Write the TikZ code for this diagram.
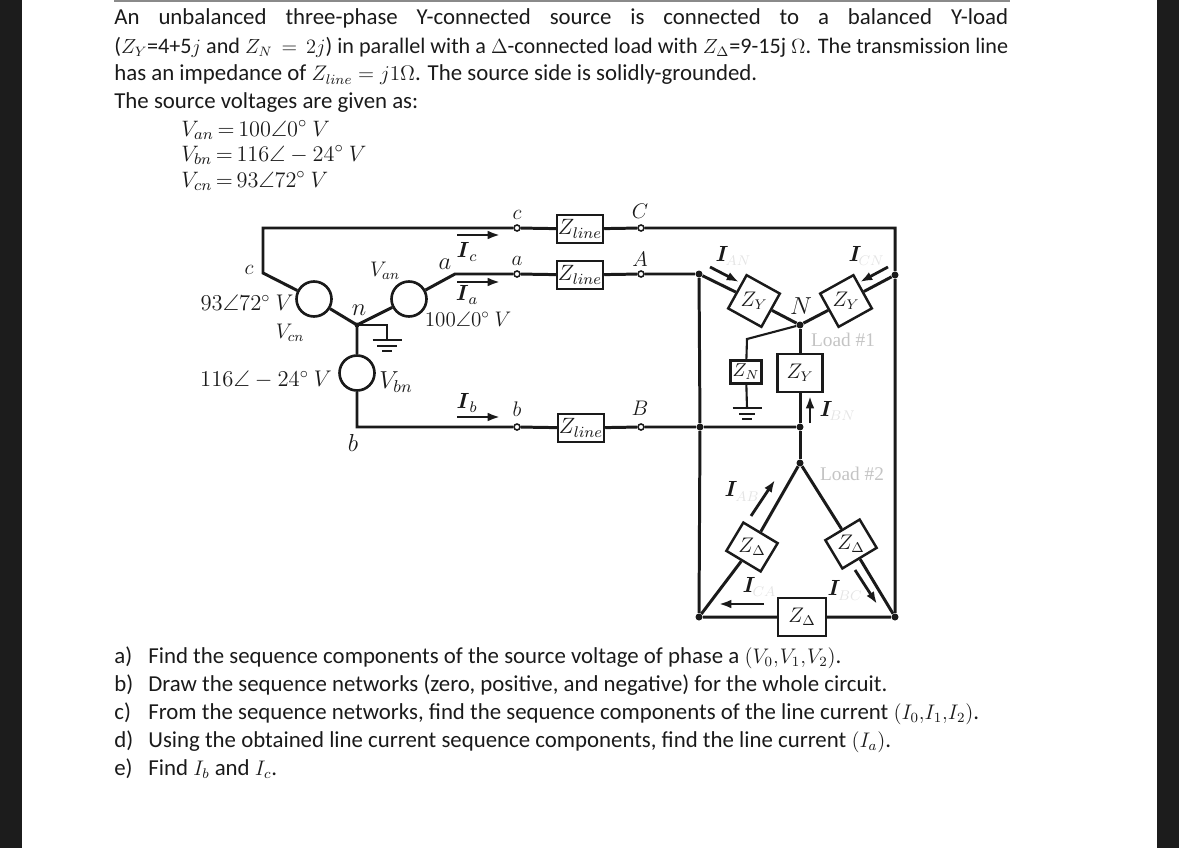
\documentclass[tikz,border=0pt]{standalone}
\usepackage{fix-cm}
\usepackage{amsmath,amssymb}
\usepackage{graphicx}
\usepackage{fontspec}
\setmainfont{Carlito}
\newfontfamily\loadfont{Liberation Serif}
\usetikzlibrary{calc,arrows.meta}

\definecolor{inkblack}{HTML}{1A1A1A}
\definecolor{framedark}{HTML}{1C1C1C}
\definecolor{fadedgray}{HTML}{C4C4C4}
\definecolor{subgray}{HTML}{E4E4E4}
\definecolor{rulegray}{HTML}{8A8A8A}

% math in the running text is a little smaller than the text
\newcommand{\tm}[1]{{\fontsize{12}{14}\selectfont$#1$}}

\begin{document}
\begin{tikzpicture}[
    x=0.02cm, y=-0.02cm,
    color=inkblack,
    wire/.style={line width=1.7pt},
    thinwire/.style={line width=1.2pt},
    curarrow/.style={line width=1.6pt, -{Latex[length=7pt,width=5pt]}},
    para/.style={anchor=base west, inner sep=0pt, font=\fontsize{13}{16}\selectfont},
    eqn/.style={anchor=base west, inner sep=0pt, font=\fontsize{12.7}{15}\selectfont},
    lbl/.style={inner sep=0pt, font=\fontsize{12}{15}\selectfont},
    biglbl/.style={inner sep=0pt, font=\fontsize{14}{15}\selectfont},
    vallbl/.style={inner sep=0pt, font=\fontsize{12.9}{15}\selectfont},
    curlbl/.style={inner sep=0pt, font=\fontsize{12.5}{15}\selectfont},
    faded/.style={inner sep=0pt, text=subgray, font=\fontsize{8}{10}\selectfont},
    loadtxt/.style={inner sep=0pt, text=fadedgray, font=\fontsize{11}{12}\loadfont},
    source/.style={draw, circle, line width=1.5pt, minimum size=0.7cm, inner sep=0pt},
    zline/.style={draw, rectangle, line width=1.4pt, minimum width=0.92cm, minimum height=0.56cm, inner sep=0pt, fill=white, font=\fontsize{12.6}{15}\selectfont},
    zbox/.style={draw, rectangle, line width=1.4pt, inner sep=0pt, fill=white},
    term/.style={draw, circle, line width=0.9pt, fill=white, minimum size=0.12cm, inner sep=0pt},
    dot/.style={circle, fill=inkblack, minimum size=0.14cm, inner sep=0pt}
]
    \useasboundingbox (0,0) rectangle (1179,848);

    % Page edges
    \fill[framedark] (0,0) rectangle (22,848);
    \fill[framedark] (1157,0) rectangle (1179,848);
    \draw[rulegray, line width=1pt] (114,1) -- (1010,1);

    % Problem statement
    \node[para] (line1) at (114,25) {\makebox[17.88cm][s]{An unbalanced three-phase Y-connected source is connected to a balanced Y-load}};
    \node[para] (line2) at (114,53) {\resizebox{17.88cm}{!}{(\tm{Z_Y}=4+5\tm{j} and \tm{Z_N\,=\,2j}) in parallel with a \tm{\Delta}-connected load with \tm{Z_\Delta}=9-15j \tm{\Omega}. The transmission line}};
    \node[para] (line3) at (114,81) {has an impedance of \tm{Z_{line}=j1\Omega}. The source side is solidly-grounded.};
    \node[para] (line4) at (114,109) {The source voltages are given as:};
    \node[eqn] (eqa) at (181,136) {$\thickmuskip=3mu V_{an}=100\angle 0^\circ\ V$};
    \node[eqn] (eqb) at (181,161) {$\thickmuskip=3mu V_{bn}=116\angle-24^\circ\ V$};
    \node[eqn] (eqc) at (181,187) {$\thickmuskip=3mu V_{cn}=93\angle 72^\circ\ V$};

    % Source side
    \coordinate (n) at (357,325);
    \coordinate (cornerC) at (263,273);
    \coordinate (cornerA) at (455,274);
    \coordinate (cornerB) at (357,427);
    \node[source] (srcC) at (314,299) {};
    \node[source] (srcA) at (409,299) {};
    \node[source] (srcB) at (357,373) {};
    \node[dot, minimum size=0.1cm] (nDot) at (n) {};

    % Terminals and line impedances
    \node[term] (tc) at (517,228) {};
    \node[term] (ta) at (517,274) {};
    \node[term] (tb) at (517,427) {};
    \node[term] (tC) at (641,228) {};
    \node[term] (tA) at (641,274) {};
    \node[term] (tB) at (641,427) {};
    \node[zline] (zlc) at (580,229) {$Z_{line}$};
    \node[zline] (zla) at (580,275) {$Z_{line}$};
    \node[zline] (zlb) at (581,428) {$Z_{line}$};

    % Right side buses
    \node[dot] (busA) at (699,274) {};
    \node[dot] (busB) at (700,427) {};
    \node[dot] (busC) at (895,275) {};
    \node[dot] (busN) at (800,427) {};
    \coordinate (cornerTop) at (895,228);
    \node[dot] (delL) at (699,617) {};
    \node[dot] (delR) at (895,617) {};
    \node[dot] (delT) at (800,463) {};

    % Source wires
    \draw[wire] (n) -- (srcC) -- (cornerC) -- (263,228) -- (tc) -- (zlc) -- (tC) -- (cornerTop) -- (busC) -- (delR);
    \draw[wire] (n) -- (srcA) -- (cornerA) -- (ta) -- (zla) -- (tA) -- (busA) -- (busB) -- (delL);
    \draw[wire] (n) -- (srcB) -- (cornerB) -- (tb) -- (zlb) -- (tB) -- (busB) -- (busN);

    % Source grounding
    \coordinate (gndS) at (387,340);
    \draw[thinwire] (n) -| (gndS);
    \foreach \w/\dy in {14.5/0,10/6,5/11} {
        \draw[thinwire] ($(gndS)+(-\w,\dy)$) -- ($(gndS)+(\w,\dy)$);
    }

    % Load 1
    \node[dot] (N) at (800,325) {};
    \node[zbox, rotate=-29, minimum width=0.76cm, minimum height=0.76cm] (zyA) at (754,301) {};
    \node[zbox, rotate=29, minimum width=0.76cm, minimum height=0.76cm] (zyC) at (846,301) {};
    \node[zbox, minimum width=0.9cm, minimum height=0.76cm] (zyB) at (800,373) {};
    \node[zbox, minimum width=0.62cm, minimum height=0.46cm] (zN) at (746,372) {};
    \coordinate (zNbend) at (747,339);
    \coordinate (gndN) at (747,408);
    \draw[wire] (busA) -- (zyA) -- (N) -- (zyC) -- (busC);
    \draw[wire] (N) -- (zyB) -- (busN) -- (delT);
    \draw[thinwire] (N) -- (zNbend) -- (zN) -- (gndN);
    \foreach \w/\dy in {14.5/0,8/6,5/11} {
        \draw[thinwire] ($(gndN)+(-\w,\dy)$) -- ($(gndN)+(\w,\dy)$);
    }
    \node[lbl] (zyAtxt) at (zyA) {$Z_Y$};
    \node[lbl] (zyCtxt) at (zyC) {$Z_Y$};
    \node[lbl] (zyBtxt) at (zyB) {$Z_Y$};
    \node[inner sep=0pt, font=\fontsize{10.6}{12}\selectfont] (zNtxt) at (zN) {$Z_N$};

    % Load 2
    \node[zbox, rotate=-31, minimum width=0.8cm, minimum height=0.66cm] (zdAB) at (752,547) {};
    \node[zbox, rotate=31, minimum width=0.8cm, minimum height=0.66cm] (zdBC) at (851,544) {};
    \node[zbox, minimum width=0.96cm, minimum height=0.76cm] (zdCA) at (802,617) {};
    \draw[wire] (delT) -- (zdAB) -- (delL) -- (zdCA) -- (delR) -- (zdBC) -- (delT);
    \node[lbl] (zdABtxt) at (zdAB) {$Z_\Delta$};
    \node[lbl] (zdBCtxt) at (zdBC) {$Z_\Delta$};
    \node[lbl] (zdCAtxt) at (zdCA) {$Z_\Delta$};

    % Current arrows
    \foreach \name/\xa/\ya/\xb/\yb in {arC/457/235/500/235, arA/457/282/500/282, arB/457/417/500/417,
        arAN/710/267/739/282, arCN/888/267/860/282, arBN/810/423/810/396,
        arAB/751/516/775/480, arBC/855/570/877/604, arCA/764/604/719/604} {
        \coordinate (\name s) at (\xa,\ya);
        \coordinate (\name e) at (\xb,\yb);
        \draw[curarrow] (\name s) -- (\name e);
    }

    % Source labels
    \node[lbl] (lblC) at (249,270) {$c$};
    \node[vallbl] (lblVc) at (247,303) {$93\angle 72^\circ\ V$};
    \node[lbl] (lblVcn) at (290,333) {$V_{cn}$};
    \node[biglbl] (lbln) at (359,310) {$n$};
    \node[lbl] (lblVan) at (385,271) {$V_{an}$};
    \node[biglbl] (lblA) at (445,264) {$a$};
    \node[lbl] (lblVa) at (468,319) {$100\angle 0^\circ\ V$};
    \node[vallbl] (lblVb) at (266,380) {$116\angle-24^\circ\ V$};
    \node[biglbl] (lblVbn) at (396,382) {$V_{bn}$};
    \node[biglbl] (lblB) at (353,443) {$b$};
    \node[curlbl] (lblIc) at (467,252) {$\boldsymbol{I}_c$};
    \node[curlbl] (lblIa) at (467,295) {$\boldsymbol{I}_a$};
    \node[curlbl] (lblIb) at (467,403) {$\boldsymbol{I}_b$};
    \node[lbl] (lbltc) at (517,215) {$c$};
    \node[lbl] (lblta) at (517,261) {$a$};
    \node[lbl] (lbltb) at (517,409) {$b$};
    \node[lbl] (lbltC) at (640,211) {$C$};
    \node[lbl] (lbltA) at (640,259) {$A$};
    \node[lbl] (lbltB) at (640,408) {$B$};

    % Load labels
    \node[biglbl] (lblN) at (801,306) {$N$};
    \node[curlbl] (lblIan) at (722,254) {$\boldsymbol{I}$};
    \node[curlbl] (lblIcn) at (855,254) {$\boldsymbol{I}$};
    \node[curlbl] (lblIbn) at (826,409) {$\boldsymbol{I}$};
    \node[curlbl] (lblIab) at (731,489) {$\boldsymbol{I}$};
    \node[curlbl] (lblIca) at (749,585) {$\boldsymbol{I}$};
    \node[curlbl] (lblIbc) at (834,588) {$\boldsymbol{I}$};
    \node[faded] (subAN) at (738,261) {$AN$};
    \node[faded] (subCN) at (871,261) {$CN$};
    \node[faded] (subBN) at (842,416) {$BN$};
    \node[faded] (subAB) at (747,497) {$AB$};
    \node[faded] (subCA) at (764,592) {$CA$};
    \node[faded] (subBC) at (850,596) {$BC$};
    \node[loadtxt] (load1) at (843,340) {Load \#1};
    \node[loadtxt] (load2) at (852,474) {Load \#2};

    % Questions
    \node[para] (qa) at (114,663) {a)};
    \node[para] (qb) at (114,691) {b)};
    \node[para] (qc) at (114,719) {c)};
    \node[para] (qd) at (114,747) {d)};
    \node[para] (qe) at (114,775) {e)};
    \node[para] (qat) at (148,663) {Find the sequence components of the source voltage of phase a \tm{\thinmuskip=1mu (V_0,V_1,V_2)}.};
    \node[para] (qbt) at (148,691) {Draw the sequence networks (zero, positive, and negative) for the whole circuit.};
    \node[para] (qct) at (148,719) {From the sequence networks, find the sequence components of the line current \tm{\thinmuskip=0mu (I_0,I_1,I_2)}.};
    \node[para] (qdt) at (148,747) {Using the obtained line current sequence components, find the line current \tm{(I_a)}.};
    \node[para] (qet) at (148,775) {Find \tm{I_b} and \tm{I_c}.};

\end{tikzpicture}
\end{document}
